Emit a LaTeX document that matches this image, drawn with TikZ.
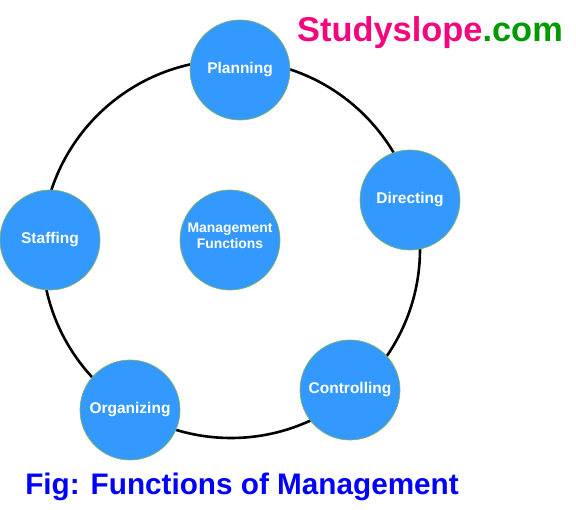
\documentclass[tikz,border=0pt]{standalone}
\usepackage{fontspec}
\setmainfont{Liberation Sans}
\definecolor{fillblue}{HTML}{3399FF}
\definecolor{rimgreen}{HTML}{82B366}
\definecolor{brandpink}{HTML}{F2077F}
\definecolor{brandgreen}{HTML}{009A00}
\definecolor{capblue}{HTML}{0000FF}
\tikzset{
  fn/.style={circle, minimum size=100pt, inner sep=0pt, fill=fillblue, draw=rimgreen, line width=0.7pt,
    text=white, font=\bfseries\fontsize{15.5}{18}\selectfont, align=center},
  ring/.style={draw=black, line width=2.6pt}
}
\begin{document}
\begin{tikzpicture}[x=1pt,y=-1pt]
\useasboundingbox (0,0) rectangle (576,510);
\coordinate (c) at (231,249);
\draw[ring] (c) circle[radius=189pt];
\node[fn] (plan) at (240,70) {\raisebox{-1pt}{Planning}};
\node[fn] (dir) at (410,200) {\raisebox{-1pt}{Directing}};
\node[fn] (ctrl) at (350,390) {\raisebox{-1pt}{Controlling}};
\node[fn] (org) at (130,410) {\raisebox{-1pt}{Organizing}};
\node[fn] (staff) at (50,240) {\raisebox{-1pt}{Staffing}};
\node[fn] (mf) at (230,240) {};
\node[text=white, align=center, inner sep=0pt, font=\bfseries\fontsize{13.9}{15.5}\selectfont] (mft) at (230,236) {Management\\Functions};
\node[anchor=base, inner sep=0pt, font=\bfseries\fontsize{34.4}{40}\selectfont] (brand) at (430,42)
  {\textcolor{brandpink}{Studyslope}\textcolor{brandgreen}{.com}};
\node[anchor=base, inner sep=0pt, text=capblue, font=\bfseries\fontsize{29.7}{34}\selectfont] (cap) at (242,495)
  {Fig: Functions of Management};
\end{tikzpicture}
\end{document}
